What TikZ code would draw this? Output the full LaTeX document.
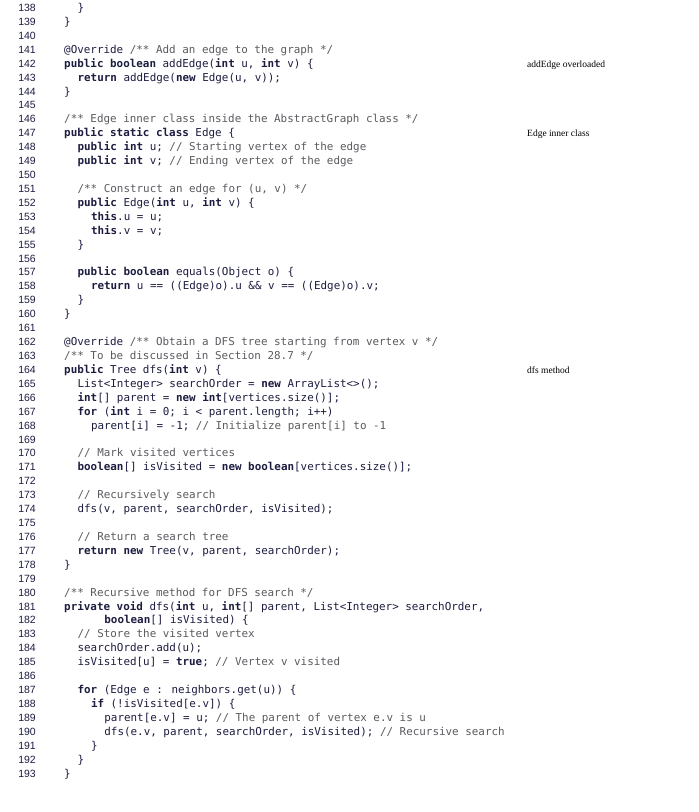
\documentclass[tikz,border=0pt]{standalone}
\usepackage{fontspec}
\newfontfamily\codefont{DejaVu Sans Mono}
\newfontfamily\numfont{Liberation Sans}
\setmainfont{Liberation Serif}
\definecolor{codecol}{HTML}{1C1C40}
\definecolor{cmcol}{HTML}{5A5A60}
\newcommand\kw[1]{{\bfseries #1}}
\newcommand\cm[1]{{\color{cmcol}#1}}
\tikzset{
  code/.style={anchor=base west, inner sep=0pt, font=\codefont\fontsize{10.9}{12}\selectfont, text=codecol},
  lnum/.style={anchor=base east, inner sep=0pt, font=\numfont\fontsize{10.5}{12}\selectfont, text=codecol},
  note/.style={anchor=base west, inner sep=0pt, font=\fontsize{9.5}{11}\selectfont, text=black}
}
\newcommand\lnr[1]{\node[lnum] (n#1) at (36pt,{-(11.5+(#1-138)*13.92)*1pt}) {#1};}
\newcommand\cl[3]{\lnr{#1}\node[code] (c#1) at ({(64+#2*6.7)*1pt},{-(11.5+(#1-138)*13.92)*1pt}) {#3};}
\begin{document}
\begin{tikzpicture}
\useasboundingbox (0,0) rectangle (699pt,-812pt);
\cl{138}{2}{\}}
\cl{139}{0}{\}}
\lnr{140}
\cl{141}{0}{@Override \cm{/** Add an edge to the graph */}}
\cl{142}{0}{\kw{public boolean} addEdge(\kw{int} u, \kw{int} v) \{}
\cl{143}{2}{\kw{return} addEdge(\kw{new} Edge(u, v));}
\cl{144}{0}{\}}
\lnr{145}
\cl{146}{0}{\cm{/** Edge inner class inside the AbstractGraph class */}}
\cl{147}{0}{\kw{public static class} Edge \{}
\cl{148}{2}{\kw{public int} u; \cm{// Starting vertex of the edge}}
\cl{149}{2}{\kw{public int} v; \cm{// Ending vertex of the edge}}
\lnr{150}
\cl{151}{2}{\cm{/** Construct an edge for (u, v) */}}
\cl{152}{2}{\kw{public} Edge(\kw{int} u, \kw{int} v) \{}
\cl{153}{4}{\kw{this}.u = u;}
\cl{154}{4}{\kw{this}.v = v;}
\cl{155}{2}{\}}
\lnr{156}
\cl{157}{2}{\kw{public boolean} equals(Object o) \{}
\cl{158}{4}{\kw{return} u == ((Edge)o).u \&\& v == ((Edge)o).v;}
\cl{159}{2}{\}}
\cl{160}{0}{\}}
\lnr{161}
\cl{162}{0}{@Override \cm{/** Obtain a DFS tree starting from vertex v */}}
\cl{163}{0}{\cm{/** To be discussed in Section 28.7 */}}
\cl{164}{0}{\kw{public} Tree dfs(\kw{int} v) \{}
\cl{165}{2}{List<Integer> searchOrder = \kw{new} ArrayList<{}>();}
\cl{166}{2}{\kw{int}[] parent = \kw{new int}[vertices.size()];}
\cl{167}{2}{\kw{for} (\kw{int} i = 0; i < parent.length; i++)}
\cl{168}{4}{parent[i] = -1; \cm{// Initialize parent[i] to -1}}
\lnr{169}
\cl{170}{2}{\cm{// Mark visited vertices}}
\cl{171}{2}{\kw{boolean}[] isVisited = \kw{new boolean}[vertices.size()];}
\lnr{172}
\cl{173}{2}{\cm{// Recursively search}}
\cl{174}{2}{dfs(v, parent, searchOrder, isVisited);}
\lnr{175}
\cl{176}{2}{\cm{// Return a search tree}}
\cl{177}{2}{\kw{return new} Tree(v, parent, searchOrder);}
\cl{178}{0}{\}}
\lnr{179}
\cl{180}{0}{\cm{/** Recursive method for DFS search */}}
\cl{181}{0}{\kw{private void} dfs(\kw{int} u, \kw{int}[] parent, List<Integer> searchOrder,}
\cl{182}{6}{\kw{boolean}[] isVisited) \{}
\cl{183}{2}{\cm{// Store the visited vertex}}
\cl{184}{2}{searchOrder.add(u);}
\cl{185}{2}{isVisited[u] = \kw{true}; \cm{// Vertex v visited}}
\lnr{186}
\cl{187}{2}{\kw{for} (Edge e : neighbors.get(u)) \{}
\cl{188}{4}{\kw{if} (!isVisited[e.v]) \{}
\cl{189}{6}{parent[e.v] = u; \cm{// The parent of vertex e.v is u}}
\cl{190}{6}{dfs(e.v, parent, searchOrder, isVisited); \cm{// Recursive search}}
\cl{191}{4}{\}}
\cl{192}{2}{\}}
\cl{193}{0}{\}}
\node[note] (m1) at (527pt,{-(11.5+4*13.92)*1pt}) {addEdge overloaded};
\node[note] (m2) at (527pt,{-(11.5+9*13.92)*1pt}) {Edge inner class};
\node[note] (m3) at (527pt,{-(11.5+26*13.92)*1pt}) {dfs method};
\end{tikzpicture}
\end{document}
